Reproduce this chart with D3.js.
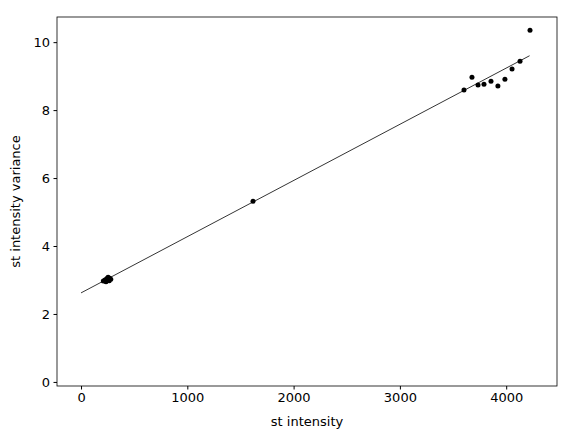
<!DOCTYPE html>
<html>
<head>
<script src="https://cdn.jsdelivr.net/npm/d3@7"></script>
<style>body{margin:0;background:#fff}text{font-family:"DejaVu Sans",sans-serif}</style>
</head>
<body>
<svg id="chart" width="576" height="433"></svg>
<script>
var intensity = [4224, 4130, 4055, 3988, 3922, 3857, 3791, 3735, 3678, 3603, 1618,
    210, 225, 240, 250, 260, 270, 280, 235, 255, 265];
var variance = [10.35, 9.44, 9.21, 8.91, 8.71, 8.85, 8.76, 8.74, 8.97, 8.59, 5.32,
    2.97, 3.0, 3.03, 3.06, 3.0, 3.05, 3.02, 2.95, 3.08, 2.98];
var fitX = [0, 4220];
var fitY = [2.62, 9.6];
var xTicks = [0, 1000, 2000, 3000, 4000];
var yTicks = [0, 2, 4, 6, 8, 10];

var svg = d3.select("#chart");
var mLeft = 57, mRight = 557, mTop = 17, mBottom = 386;
var x = d3.scaleLinear().domain([-226, 4478]).range([mLeft, mRight]);
var y = d3.scaleLinear().domain([-0.12, 10.74]).range([mBottom, mTop]);

svg.append("g").attr("transform", "translate(0," + mBottom + ")")
    .call(d3.axisBottom(x).tickValues(xTicks).tickFormat(d3.format("d")).tickSize(3.5).tickPadding(3.5).tickSizeOuter(0))
    .call(g => g.select(".domain").remove());
svg.append("g").attr("transform", "translate(" + mLeft + ",0)")
    .call(d3.axisLeft(y).tickValues(yTicks).tickFormat(d3.format("d")).tickSize(3.5).tickPadding(3.5).tickSizeOuter(0))
    .call(g => g.select(".domain").remove());
svg.selectAll(".tick text").attr("font-size", 13).attr("fill", "#000");

svg.append("rect").attr("x", mLeft).attr("y", mTop).attr("width", mRight - mLeft)
    .attr("height", mBottom - mTop).attr("fill", "none").attr("stroke", "#000").attr("stroke-width", 0.8);

svg.append("line").attr("x1", x(fitX[0])).attr("y1", y(fitY[0]))
    .attr("x2", x(fitX[1])).attr("y2", y(fitY[1])).attr("stroke", "#000").attr("stroke-width", 0.8);

svg.selectAll("circle.pt").data(intensity).enter().append("circle")
    .attr("class", "pt")
    .attr("cx", d => x(d)).attr("cy", (d, i) => y(variance[i])).attr("r", 2.5).attr("fill", "#000");

svg.append("text").attr("x", (mLeft + mRight) / 2).attr("y", 426).attr("text-anchor", "middle")
    .attr("font-size", 13).text("st intensity");
svg.append("text").attr("transform", "translate(20," + (mTop + mBottom) / 2 + ") rotate(-90)")
    .attr("text-anchor", "middle").attr("font-size", 13).text("st intensity variance");
</script>
</body>
</html>
